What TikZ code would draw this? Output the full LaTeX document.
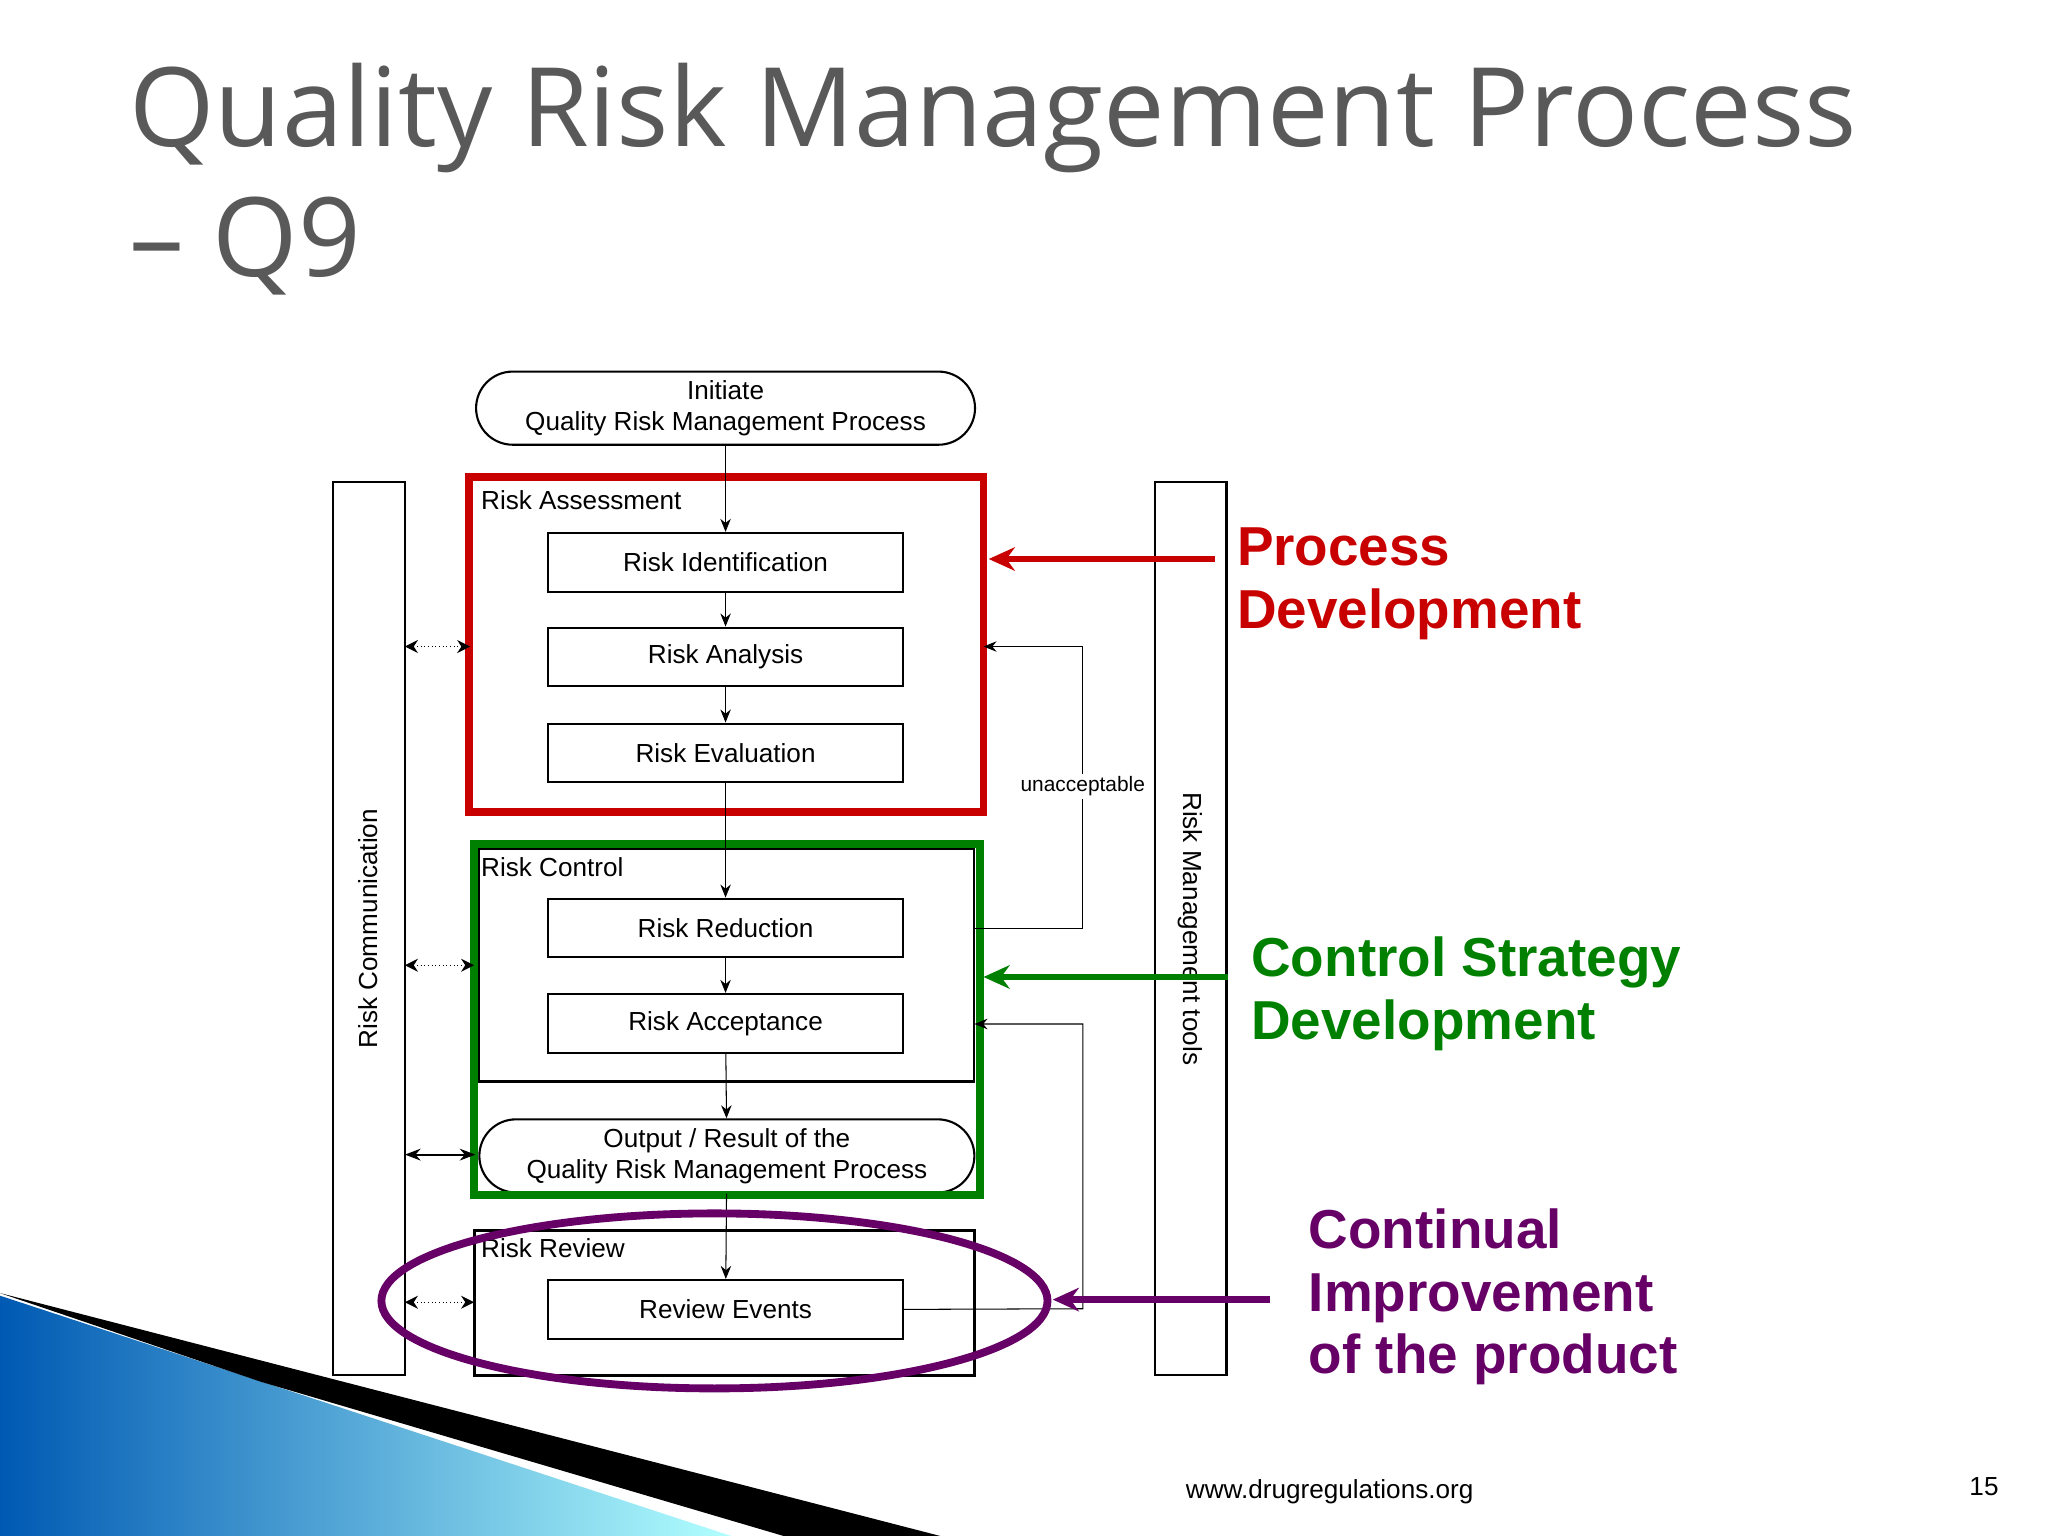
\documentclass[tikz,border=0pt]{standalone}
\usepackage{fontspec}
\setmainfont{Liberation Sans}
\newfontfamily\titlefont{Open Sans}
\usetikzlibrary{arrows.meta}
\definecolor{rred}{RGB}{200,0,0}
\definecolor{rgreen}{RGB}{0,128,0}
\definecolor{rpurple}{RGB}{102,0,102}
\begin{document}
\begin{tikzpicture}[x=0.5pt,y=-0.5pt,
  box/.style={draw,thick,minimum width=136pt,minimum height=22.5pt,inner sep=0pt,font=\fontsize{10}{12}\selectfont},
  rnd/.style={draw,thick,rounded corners=14pt,minimum width=191pt,minimum height=28pt,inner sep=0pt,align=center,font=\fontsize{10}{12}\selectfont},
  ar/.style={-{Stealth[length=5pt,width=4pt]},thin},
  dar/.style={{Stealth[length=5pt,width=5pt]}-{Stealth[length=5pt,width=5pt]},densely dotted,thin},
  ann/.style={font=\fontsize{21}{24}\selectfont\bfseries,anchor=west,align=left},
  lab/.style={font=\fontsize{10}{12}\selectfont,anchor=north west,inner sep=2pt}]
\useasboundingbox (0,0) rectangle (1568,1176);
% swoosh
\shade[left color=cyan!50!blue!70!black,right color=cyan!30] (0,992) -- (560,1176) -- (0,1176) -- cycle;
\fill[black] (0,990) -- (240,1052) -- (720,1176) -- (600,1176) -- (200,1058) -- cycle;
\fill[white] (240,1050) -- (740,1176) -- (1568,1176) -- (1568,1100) -- cycle;
% title
\node[anchor=west,text=black!65,font=\titlefont\fontsize{42}{48}\selectfont] (t1) at (92,90) {Quality Risk Management Process};
\node[anchor=west,text=black!65,font=\titlefont\fontsize{42}{48}\selectfont] (t2) at (92,188) {– Q9};
% bars
\node[draw,thick,minimum width=27.5pt,minimum height=342pt,inner sep=0pt] (rc) at (282.5,711) {};
\node[rotate=90,font=\fontsize{10}{12}\selectfont] (rct) at (282,711) {Risk Communication};
\node[draw,thick,minimum width=27.5pt,minimum height=342pt,inner sep=0pt] (rm) at (911.5,711) {};
\node[rotate=-90,font=\fontsize{10}{12}\selectfont] (rmt) at (911,711) {Risk Management tools};
% nodes
\node[rnd] (init) at (555.5,312.5) {Initiate\\Quality Risk Management Process};
\node[box] (ri) at (555.5,430.5) {Risk Identification};
\node[box] (ra) at (555.5,503) {Risk Analysis};
\node[box] (re) at (555.5,576.5) {Risk Evaluation};
\draw[thick] (367,650) rectangle (746,828);
\node[box] (rr) at (555.5,710.5) {Risk Reduction};
\node[box] (rac) at (555.5,783.5) {Risk Acceptance};
\node[rnd,minimum width=189.5pt] (out) at (556.5,885) {Output / Result of the\\Quality Risk Management Process};
\draw[very thick] (363,942) rectangle (746,1053);
\node[box] (rev) at (555.5,1002.5) {Review Events};
\node[lab] (la) at (364,371) {Risk Assessment};
\node[lab] (lc) at (364,652) {Risk Control};
\node[lab] (lr) at (364,944) {Risk Review};
% coloured frames
\draw[rred,line width=3pt] (359,365) rectangle (753,622);
\draw[rgreen,line width=3pt] (363,646) rectangle (750,915);
% center flow
\draw[ar] (init) -- (ri);
\draw[ar] (ri) -- (ra);
\draw[ar] (ra) -- (re);
\draw[ar] (re) -- (rr);
\draw[ar] (rr) -- (rac);
\draw[ar] (rac) -- (out);
\draw[ar] (out) -- (rev);
% loops
\coordinate (l1) at (753,495);
\draw[ar] (746,711) -- (829,711) -- (829,495) -- (l1);
\node[fill=white,inner sep=1pt,font=\fontsize{8}{10}\selectfont] (un) at (829,602) {unacceptable};
\coordinate (l2) at (746,784);
\draw[ar] (rev.east) -- (829,1002) -- (829,784) -- (l2);
% communication arrows
\draw[dar] (310,495) -- (360,495);
\draw[dar] (310,739) -- (363,739);
\draw[{Stealth[length=6pt]}-{Stealth[length=6pt]},thick] (310,884) -- (364,884);
\draw[dar] (310,997) -- (363,997);
% annotations
\draw[rred,line width=2.5pt,-{Stealth[length=10pt,width=9pt]}] (930,428) -- (757,428);
\node[ann,text=rred] (pd) at (940,447) {Process\\Development};
\draw[rgreen,line width=2.5pt,-{Stealth[length=10pt,width=9pt]}] (940,748) -- (753,748);
\node[ann,text=rgreen] (cs) at (951,761) {Control Strategy\\Development};
\draw[rpurple,line width=3pt] (547,996) ellipse (255 and 67);
\draw[rpurple,line width=2.5pt,-{Stealth[length=10pt,width=9pt]}] (972,995) -- (806,995);
\node[ann,text=rpurple] (ci) at (995,993) {Continual\\Improvement\\of the product};
% footer
\node[font=\fontsize{10}{12}\selectfont] (web) at (1018,1142) {www.drugregulations.org};
\node[font=\fontsize{10}{12}\selectfont] (pg) at (1519,1138) {15};
\end{tikzpicture}
\end{document}
